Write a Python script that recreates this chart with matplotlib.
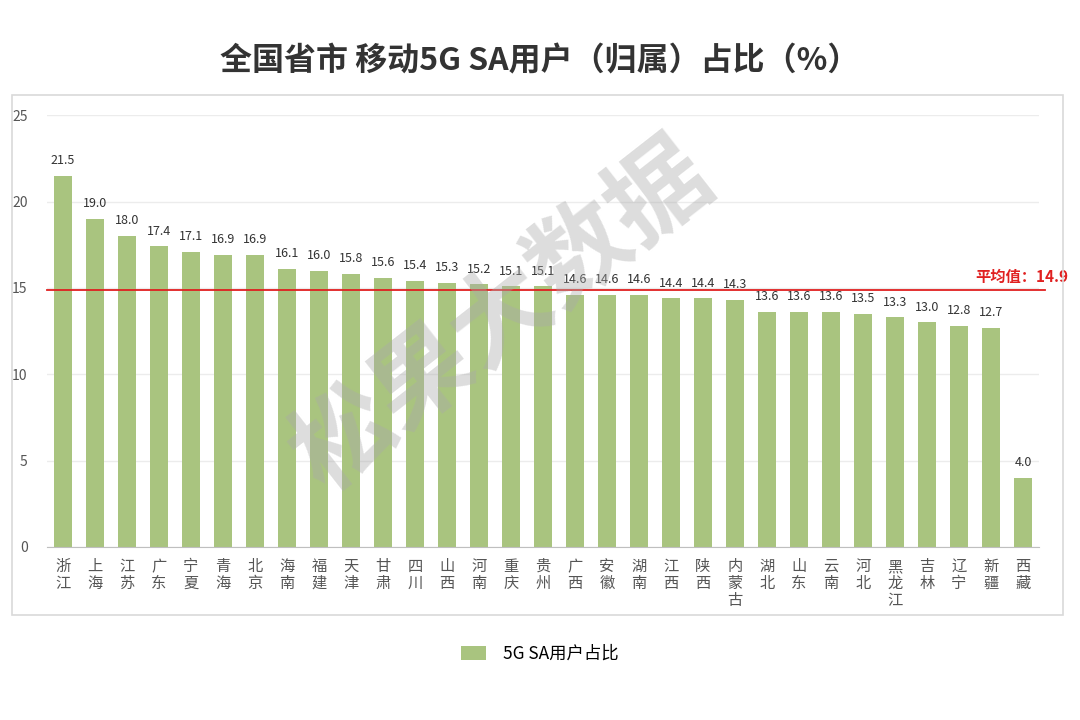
import matplotlib.pyplot as plt
from matplotlib.patches import Rectangle

plt.rcParams['font.family'] = ['Noto Sans CJK SC', 'DejaVu Sans']

provinces = ["浙江", "上海", "江苏", "广东", "宁夏", "青海", "北京", "海南", "福建", "天津",
             "甘肃", "四川", "山西", "河南", "重庆", "贵州", "广西", "安徽", "湖南", "江西",
             "陕西", "内蒙古", "湖北", "山东", "云南", "河北", "黑龙江", "吉林", "辽宁", "新疆", "西藏"]
share = [21.5, 19.0, 18.0, 17.4, 17.1, 16.9, 16.9, 16.1, 16.0, 15.8,
         15.6, 15.4, 15.3, 15.2, 15.1, 15.1, 14.6, 14.6, 14.6, 14.4,
         14.4, 14.3, 13.6, 13.6, 13.6, 13.5, 13.3, 13.0, 12.8, 12.7, 4.0]
average = 14.9
yticks = [0, 5, 10, 15, 20, 25]

bar_color = "#a9c47f"

fig = plt.figure(figsize=(10.8, 7.2), dpi=100)
ax = fig.add_axes([0.0435, 0.2403, 0.9185, 0.5997])

# outer frame around the chart area
fig.patches.append(Rectangle((12 / 1080, 1 - 615 / 720), 1051 / 1080, 520 / 720,
                             transform=fig.transFigure, fill=False,
                             edgecolor="#d9d9d9", linewidth=1.2))

x = range(len(provinces))
bars = ax.bar(x, share, width=0.55, color=bar_color, label="5G SA用户占比", zorder=2)
for xi, v in zip(x, share):
    ax.text(xi, v + 0.5, f"{v:.1f}", ha="center", va="bottom", fontsize=9,
            color="#333333", zorder=3)

ax.axhline(average, color="#e02020", linewidth=1.3, xmin=0, xmax=1.006,
           clip_on=False, zorder=4)
ax.text(1.03, average + 0.25, f"平均值：{average}", transform=ax.get_yaxis_transform(),
        ha="right", va="bottom", color="#e02020", fontsize=11, fontweight="bold")

ax.set_xlim(-0.5, len(provinces) - 0.5)
ax.set_ylim(0, 25)
ax.set_yticks(yticks)
ax.yaxis.grid(True, color="#ececec", linewidth=1, zorder=0)
ax.set_xticks(list(x))
ax.set_xticklabels(["\n".join(p) for p in provinces], fontsize=11, color="#555555",
                   linespacing=1.0)
ax.tick_params(axis="x", length=0, pad=8)
ax.tick_params(axis="y", length=0, pad=14, labelsize=10, labelcolor="#555555")
for s in ["top", "right", "left"]:
    ax.spines[s].set_visible(False)
ax.spines["bottom"].set_color("#bfbfbf")

# watermark
fig.text(0.465, 0.56, "松果大数据", fontsize=72, fontweight="bold", color="#aaaaaa",
         alpha=0.4, rotation=38, ha="center", va="center", zorder=10)

fig.suptitle("全国省市 移动5G SA用户（归属）占比（%）", y=0.937, fontsize=23,
             fontweight="bold", color="#333333")

fig.legend(handles=[bars], loc="center", bbox_to_anchor=(0.5, 0.092), frameon=False,
           fontsize=12.5, handlelength=1.4, handleheight=0.9, handletextpad=1.0)

fig.savefig("out.png", dpi=100)
